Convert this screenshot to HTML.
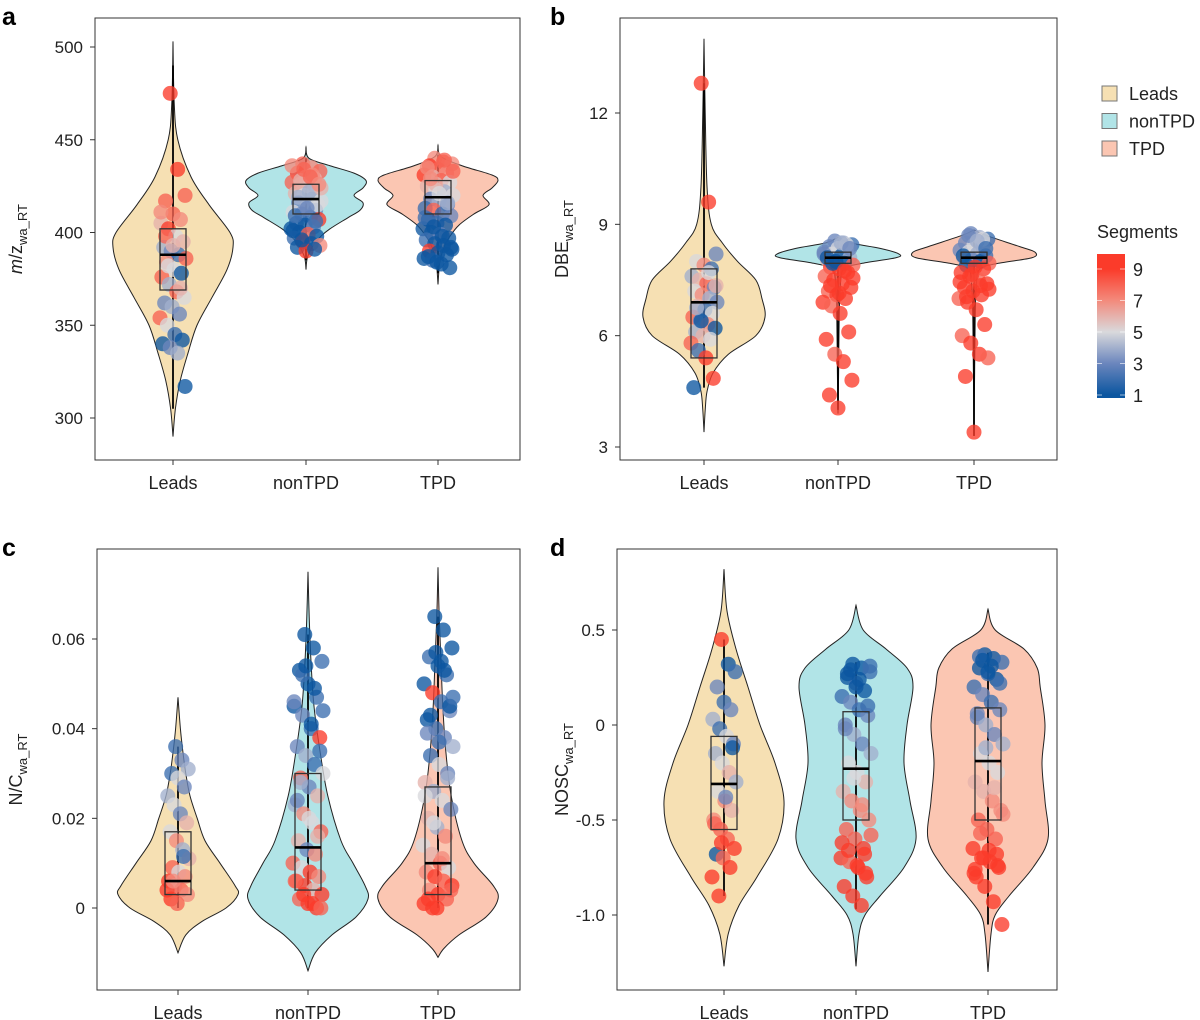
<!DOCTYPE html>
<html><head><meta charset="utf-8"><style>
body{margin:0;background:#fff;}
svg{display:block;font-family:"Liberation Sans",sans-serif;}
</style></head><body>
<svg id="chart" width="1200" height="1020" viewBox="0 0 1200 1020" xmlns="http://www.w3.org/2000/svg"></svg>
<script>
// ---------- data ----------
const categories = ["Leads","nonTPD","TPD"];
const groupFills = ["#f6e0b3","#b1e4e7","#fbc6b2"];
// panel a: m/z
const aTicks = [300,350,400,450,500];
const aViolinVals = [[503,470,450,430,415,400,392,380,365,350,335,320,305,290],[446,440,436,432,428,424,420,416,412,408,402,398,392,386,380],[447,441,436,431,428,424,420,415,410,404,398,392,384,372]];
const aViolinW = [[0,0.02,0.08,0.3,0.6,0.95,1,0.9,0.65,0.4,0.25,0.12,0.04,0],[0,0.05,0.4,0.8,1,0.95,0.8,0.95,0.9,0.7,0.4,0.25,0.1,0.02,0],[0,0.05,0.4,0.9,1,0.9,0.75,0.85,0.6,0.35,0.2,0.1,0.03,0]];
const aBox = [[369,388,402],[410,418,426],[410,419,428]];
const aWhisk = [[305,490],[385,440],[378,442]];
const aVals = [[475,434,420,417,410,407,405,402,398,395,392,390,388,386,384,380,378,376,372,368,365,362,360,356,354,350,345,342,340,338,335,317,398,393,370,411,382],[437,435,433,432,430,429,427,426,425,423,421,420,418,417,416,414,412,411,410,408,407,405,404,403,402,400,399,398,397,395,394,393,392,390,391,436,428,422,415,409,434,431,424,419,413,406,401,396,430,426],[440,438,437,436,434,432,431,430,428,427,425,423,422,420,418,417,415,413,412,410,409,407,405,404,402,400,399,397,396,394,393,391,390,389,388,386,385,383,381,435,426,439,433,429,421,416,408,403,398,392,387,384]];
const aSeg = [[9,9,8,8,8,7,6,9,5,6,4,3,2,8,7,5,1,8,4,8,5,3,4,3,8,5,2,1,1,3,4,1,8,6,6,7,5],[8,7,8,9,7,6,8,7,6,5,6,5,4,5,3,4,3,5,3,2,9,2,1,3,1,1,8,1,2,9,1,7,1,9,1,7,6,4,5,2,8,7,6,4,3,2,1,1,8,7],[7,8,7,9,8,7,9,6,8,5,6,5,4,5,3,4,3,2,8,2,3,1,2,1,1,1,3,1,2,1,1,1,9,1,1,1,2,1,1,7,6,8,8,7,5,4,2,1,1,1,1,1]];
// panel b: DBE
const bTicks = [3,6,9,12];
const bViolinVals = [[14,12,10,9,8.5,8,7.5,7,6.5,6,5.5,5,4.5,4,3.4],[8.65,8.5,8.35,8.2,8.1,7.95,7.8,7.4,6.5,5,3.9],[8.85,8.7,8.4,8.25,8.1,7.95,7.8,7.4,6.5,5,3.3]];
const bViolinW = [[0,0.02,0.05,0.12,0.3,0.55,0.85,0.95,1,0.85,0.4,0.15,0.05,0.02,0],[0,0.2,0.7,1,0.95,0.4,0.1,0.04,0.02,0.01,0],[0,0.2,0.75,1,0.95,0.4,0.1,0.04,0.02,0.01,0]];
const bBox = [[5.4,6.9,7.8],[7.95,8.1,8.25],[7.95,8.1,8.25]];
const bWhisk = [[4.6,12.8],[4.0,8.6],[3.3,8.8]];
const bVals = [[12.8,9.6,8.2,8.0,7.9,7.8,7.6,7.5,7.4,7.3,7.2,7.1,7.0,6.9,6.8,6.7,6.6,6.5,6.4,6.3,6.2,6.1,6.0,5.9,5.8,5.6,5.4,4.85,4.6,6.4,7.7,7.35,6.75],[8.55,8.5,8.45,8.4,8.35,8.3,8.25,8.2,8.15,8.1,8.05,8.0,7.95,7.9,7.85,7.8,7.7,7.6,7.5,7.4,7.3,7.2,7.1,7.0,6.9,6.8,6.6,6.1,5.9,5.5,5.3,4.8,4.4,4.05,8.45,8.2,7.95,8.5,8.35,8.1,8.0,7.75,7.55,7.35,7.15],[8.75,8.65,8.6,8.5,8.45,8.4,8.3,8.25,8.2,8.15,8.1,8.05,8.0,7.95,7.9,7.85,7.8,7.7,7.6,7.5,7.4,7.3,7.2,7.1,7.0,6.9,6.7,6.3,6.0,5.8,5.5,5.4,4.9,3.4,8.6,7.45,8.7,8.55,8.35,8.15,7.65,7.35,7.25,7.05]];
const bSeg = [[9,9,3,5,7,2,4,6,8,3,5,7,4,3,6,2,5,8,3,7,1,4,6,5,8,2,9,9,1,1,5,6,4],[3,4,2,3,5,4,3,5,1,4,6,2,1,8,9,9,9,8,9,9,9,8,9,9,9,8,9,9,9,8,9,9,9,9,5,3,1,4,3,1,1,9,9,9,9],[3,4,2,3,5,4,3,5,4,2,6,3,1,8,1,9,9,9,9,8,9,9,9,9,8,9,9,9,8,9,9,8,9,9,5,9,3,4,2,1,9,9,9,9]];
// panel c: N/C
const cTicks = [0,0.02,0.04,0.06];
const cTickLabels = ["0","0.02","0.04","0.06"];
const cViolinVals = [[0.047,0.04,0.035,0.03,0.025,0.02,0.015,0.01,0.005,0.003,0.0,-0.003,-0.006,-0.01],[0.075,0.065,0.055,0.045,0.035,0.025,0.015,0.01,0.005,0.002,-0.002,-0.006,-0.01,-0.014],[0.076,0.065,0.055,0.045,0.035,0.025,0.015,0.01,0.005,0.002,-0.002,-0.006,-0.009,-0.011]];
const cViolinW = [[0,0.04,0.08,0.13,0.2,0.32,0.45,0.7,0.95,1,0.8,0.4,0.13,0],[0,0.02,0.05,0.1,0.2,0.33,0.55,0.75,0.95,1,0.8,0.4,0.12,0],[0,0.02,0.05,0.08,0.13,0.22,0.4,0.6,0.92,1,0.8,0.35,0.1,0]];
const cBox = [[0.003,0.006,0.017],[0.004,0.0135,0.030],[0.003,0.010,0.027]];
const cWhisk = [[0,0.036],[0,0.061],[0,0.065]];
const cVals = [[0.036,0.033,0.031,0.030,0.029,0.027,0.025,0.023,0.021,0.019,0.017,0.015,0.013,0.011,0.009,0.008,0.007,0.006,0.005,0.004,0.003,0.002,0.001,0.0115,0.004,0.006],[0.061,0.058,0.055,0.053,0.05,0.047,0.045,0.043,0.04,0.038,0.036,0.034,0.032,0.03,0.029,0.027,0.025,0.023,0.021,0.019,0.017,0.015,0.013,0.012,0.01,0.009,0.008,0.007,0.006,0.005,0.004,0.003,0.002,0.001,0.0,0.046,0.052,0.041,0.035,0.024,0.054,0.049,0.044,0.028,0.02,0.016,0.006,0.003,0.001,0.0],[0.065,0.062,0.058,0.056,0.054,0.052,0.05,0.048,0.046,0.044,0.042,0.04,0.038,0.036,0.034,0.032,0.03,0.028,0.026,0.024,0.022,0.02,0.018,0.016,0.014,0.012,0.01,0.009,0.008,0.007,0.006,0.005,0.004,0.003,0.002,0.001,0.0,0.055,0.045,0.039,0.057,0.053,0.047,0.043,0.037,0.029,0.025,0.019,0.011,0.004,0.002,0.0]];
const cSeg = [[2,3,4,2,5,3,4,5,3,6,5,7,4,6,8,5,7,9,6,8,7,9,8,2,9,7],[1,1,2,1,1,2,1,3,2,9,3,4,2,5,8,3,6,4,7,5,8,6,3,7,8,5,9,7,8,9,6,9,8,9,9,3,2,1,2,3,1,1,2,4,5,6,8,9,9,8],[1,1,1,2,1,2,1,9,2,3,1,2,3,4,2,5,3,6,4,5,3,6,4,7,5,6,8,5,7,9,8,9,7,9,8,9,9,1,1,3,1,1,2,1,2,4,5,5,7,8,9,9]];
// panel d: NOSC
const dTicks = [-1.0,-0.5,0,0.5];
const dTickLabels = ["-1.0","-0.5","0","0.5"];
const dViolinVals = [[0.82,0.6,0.4,0.2,0,-0.2,-0.4,-0.6,-0.8,-0.95,-1.1,-1.27],[0.63,0.5,0.4,0.3,0.2,0,-0.2,-0.4,-0.6,-0.75,-0.9,-1.0,-1.1,-1.27],[0.61,0.5,0.4,0.3,0.2,0,-0.2,-0.4,-0.6,-0.75,-0.9,-1.0,-1.1,-1.3]];
const dViolinW = [[0,0.05,0.2,0.4,0.6,0.85,1,0.9,0.55,0.25,0.07,0],[0,0.12,0.5,0.85,0.95,0.85,0.8,0.9,1,0.8,0.4,0.15,0.05,0],[0,0.12,0.6,0.82,0.87,0.95,0.9,0.95,1,0.75,0.35,0.12,0.05,0]];
const dBox = [[-0.55,-0.31,-0.06],[-0.5,-0.23,0.07],[-0.5,-0.19,0.09]];
const dWhisk = [[-0.9,0.45],[-0.97,0.33],[-1.05,0.38]];
const dVals = [[0.45,0.32,0.28,0.2,0.12,0.08,0.03,-0.02,-0.06,-0.1,-0.15,-0.2,-0.25,-0.3,-0.35,-0.4,-0.45,-0.5,-0.55,-0.6,-0.65,-0.68,-0.7,-0.75,-0.8,-0.9,-0.38,-0.12,-0.52,-0.62],[0.32,0.3,0.28,0.25,0.22,0.18,0.15,0.12,0.08,0.05,0.0,-0.05,-0.1,-0.15,-0.2,-0.25,-0.3,-0.35,-0.4,-0.45,-0.5,-0.55,-0.6,-0.65,-0.7,-0.72,-0.75,-0.8,-0.85,-0.9,-0.95,0.31,0.27,0.2,-0.68,-0.62,0.29,0.24,0.1,-0.02,-0.28,-0.42,-0.58,-0.66,-0.74,-0.78],[0.37,0.35,0.33,0.3,0.27,0.24,0.2,0.16,0.12,0.08,0.04,0.0,-0.05,-0.1,-0.15,-0.2,-0.25,-0.3,-0.35,-0.4,-0.45,-0.5,-0.55,-0.6,-0.65,-0.7,-0.72,-0.75,-0.8,-0.85,-0.93,-1.05,0.36,0.28,-0.68,-0.78,0.34,0.31,0.22,0.06,-0.12,-0.33,-0.47,-0.57,-0.66,-0.74,-0.76,-0.7]];
const dSeg = [[9,1,2,3,2,3,4,2,5,3,4,5,6,4,5,7,6,7,8,8,9,1,8,9,9,9,3,1,8,9],[1,1,2,1,2,1,2,3,2,3,3,4,3,4,5,5,6,6,7,7,7,8,8,9,9,8,9,9,9,9,9,2,1,1,9,9,1,1,2,3,5,7,8,9,9,9],[1,1,2,1,2,1,2,3,2,3,3,4,3,4,5,5,5,6,6,7,7,8,8,8,9,9,9,9,9,9,9,9,2,1,9,9,1,1,2,3,4,6,7,8,9,9,9,9]];
const segTicks = [1,3,5,7,9];

// ---------- helpers ----------
const svg = document.getElementById('chart');
const NS = "http://www.w3.org/2000/svg";
function mk(tag, attrs, parent){const e=document.createElementNS(NS,tag);for(const k in attrs)e.setAttribute(k,attrs[k]);(parent||svg).appendChild(e);return e;}
const stops=[[1,[11,86,160]],[3,[107,134,189]],[5,[217,217,220]],[7,[243,138,124]],[9,[251,59,42]]];
function segColor(s){for(let i=0;i<stops.length-1;i++){const a=stops[i],b=stops[i+1];if(s<=b[0]){const t=Math.max(0,(s-a[0])/(b[0]-a[0]));const c=a[1].map((v,j)=>Math.round(v+(b[1][j]-v)*t));return `rgb(${c})`;}}return 'rgb(251,59,42)';}
function smoothPath(pts){let d=`M${pts[0][0]},${pts[0][1]}`;for(let i=0;i<pts.length-1;i++){const p0=pts[Math.max(0,i-1)],p1=pts[i],p2=pts[i+1],p3=pts[Math.min(pts.length-1,i+2)];const c1=[p1[0]+(p2[0]-p0[0])/6,p1[1]+(p2[1]-p0[1])/6];const c2=[p2[0]-(p3[0]-p1[0])/6,p2[1]-(p3[1]-p1[1])/6];d+=`C${c1[0]},${c1[1]} ${c2[0]},${c2[1]} ${p2[0]},${p2[1]}`;}return d;}

function panel(cfg){
  const g=mk('g',{});
  
  
  const {x0,x1,y0,y1,vTop,pxTop,vBot,pxBot,cx}=cfg;
  const y=v=>pxBot+(v-vBot)*(pxTop-pxBot)/(vTop-vBot);
  const fr=mk('rect',{x:x0,y:y0,width:x1-x0,height:y1-y0,fill:'none',stroke:'#333','stroke-width':1},g);
  
  cfg.ticks.forEach((t,i)=>{
    mk('line',{x1:x0-5,x2:x0,y1:y(t),y2:y(t),stroke:'#333'},g);
    const tx=mk('text',{x:x0-12,y:y(t)+6,'text-anchor':'end','font-size':17,fill:'#222'},g);
    tx.textContent=cfg.tickLabels?cfg.tickLabels[i]:String(t);
    
  });
  categories.forEach((c,i)=>{
    mk('line',{x1:cx[i],x2:cx[i],y1:y1,y2:y1+5,stroke:'#333'},g);
    const tx=mk('text',{x:cx[i],y:y1+29,'text-anchor':'middle','font-size':18,fill:'#222'},g);
    tx.textContent=c;
    
  });
  for(let i=0;i<3;i++){
    const gg=mk('g',{},g);
    
    
    const vals=cfg.vv[i],ws=cfg.vw[i],W=cfg.maxW;
    const right=vals.map((v,k)=>[cx[i]+ws[k]*W,y(v)]);
    const left=vals.map((v,k)=>[cx[i]-ws[k]*W,y(v)]).reverse();
    const pv=mk('path',{d:smoothPath(right)+' '+smoothPath(left).replace('M','L')+'Z',fill:groupFills[i],stroke:'#222','stroke-width':1},gg);
    
    const wl=mk('line',{x1:cx[i],x2:cx[i],y1:y(cfg.wh[i][0]),y2:y(cfg.wh[i][1]),stroke:'#000','stroke-width':1.8},gg);
    
    const jw=i===0?cfg.jl:15;
    cfg.pv[i].forEach((v,k)=>{
      const j=(((k*37+11)%29)/28-0.5)*2*jw;
      const c=mk('circle',{cx:cx[i]+j,cy:y(v),r:7.5,fill:segColor(cfg.ps[i][k]),'fill-opacity':0.78},gg);
      
    });
    const b=cfg.box[i];
    const br=mk('rect',{x:cx[i]-13,y:y(b[2]),width:26,height:y(b[0])-y(b[2]),fill:'none',stroke:'#333','stroke-width':1.3},gg);
    
    const md=mk('line',{x1:cx[i]-13,x2:cx[i]+13,y1:y(b[1]),y2:y(b[1]),stroke:'#000','stroke-width':2.6},gg);
    
  }
  const pl=mk('text',{x:cfg.lx,y:cfg.ly,'font-size':25,'font-weight':'bold',fill:'#000'},g);
  pl.textContent=cfg.letter;
  
  const yt=mk('text',{transform:`translate(${cfg.tx},${(y0+y1)/2}) rotate(-90)`,'text-anchor':'middle','font-size':18,fill:'#222'},g);
  yt.innerHTML=cfg.title;
  
}

panel({name:'panel-a-mz',letter:'a',lx:2,ly:25,x0:95,x1:520,y0:18,y1:460,vTop:500,pxTop:47,vBot:300,pxBot:418,cx:[173,306,438],ticks:aTicks,vv:aViolinVals,vw:aViolinW,box:aBox,wh:aWhisk,pv:aVals,ps:aSeg,maxW:60,jl:13,tx:22,title:'<tspan font-style="italic">m</tspan>/z<tspan font-size="13" dy="5">wa_RT</tspan>'});
panel({name:'panel-b-dbe',letter:'b',lx:550,ly:25,x0:620,x1:1057,y0:18,y1:460,vTop:12,pxTop:113,vBot:3,pxBot:447,cx:[704,838,974],ticks:bTicks,vv:bViolinVals,vw:bViolinW,box:bBox,wh:bWhisk,pv:bVals,ps:bSeg,maxW:61,jl:13,tx:568,title:'DBE<tspan font-size="13" dy="5">wa_RT</tspan>'});
panel({name:'panel-c-nc',letter:'c',lx:2,ly:556,x0:97,x1:520,y0:549,y1:990,vTop:0.06,pxTop:639,vBot:0,pxBot:908,cx:[178,308,438],ticks:cTicks,tickLabels:cTickLabels,vv:cViolinVals,vw:cViolinW,box:cBox,wh:cWhisk,pv:cVals,ps:cSeg,maxW:60,jl:11,tx:22,title:'N/C<tspan font-size="13" dy="5">wa_RT</tspan>'});
panel({name:'panel-d-nosc',letter:'d',lx:550,ly:556,x0:617,x1:1057,y0:549,y1:990,vTop:0.5,pxTop:630,vBot:-1.0,pxBot:915,cx:[724,856,988],ticks:dTicks,tickLabels:dTickLabels,vv:dViolinVals,vw:dViolinW,box:dBox,wh:dWhisk,pv:dVals,ps:dSeg,maxW:60,jl:12,tx:568,title:'NOSC<tspan font-size="13" dy="5">wa_RT</tspan>'});

// legend
const lg=mk('g',{});

categories.forEach((c,i)=>{
  const yy=94+i*27.5;
  const r=mk('rect',{x:1102,y:yy-8,width:15,height:15,fill:groupFills[i],stroke:'#777','stroke-width':1},lg);
  
  const t=mk('text',{x:1129,y:yy+6,'font-size':18,fill:'#222'},lg);
  t.textContent=c;
  
});
const cb=mk('g',{});

const ct=mk('text',{x:1097,y:238,'font-size':18,fill:'#222'},cb);
ct.textContent='Segments';

const defs=mk('defs',{});
const lgd=mk('linearGradient',{id:'segGrad',x1:0,y1:1,x2:0,y2:0},defs);
stops.forEach(s=>{mk('stop',{offset:((s[0]-0.8)/(9.95-0.8)).toFixed(3),'stop-color':`rgb(${s[1]})`},lgd);});
mk('rect',{x:1097,y:254,width:28,height:144,fill:'url(#segGrad)'},cb);
const cy=v=>395-(v-1)*15.75;
segTicks.forEach(s=>{
  mk('line',{x1:1097,x2:1102,y1:cy(s),y2:cy(s),stroke:'#fff','stroke-opacity':0.6},cb);
  mk('line',{x1:1120,x2:1125,y1:cy(s),y2:cy(s),stroke:'#fff','stroke-opacity':0.6},cb);
  const t=mk('text',{x:1133,y:cy(s)+7,'font-size':18,fill:'#222'},cb);
  t.textContent=String(s);
  
});
</script>
</body></html>
